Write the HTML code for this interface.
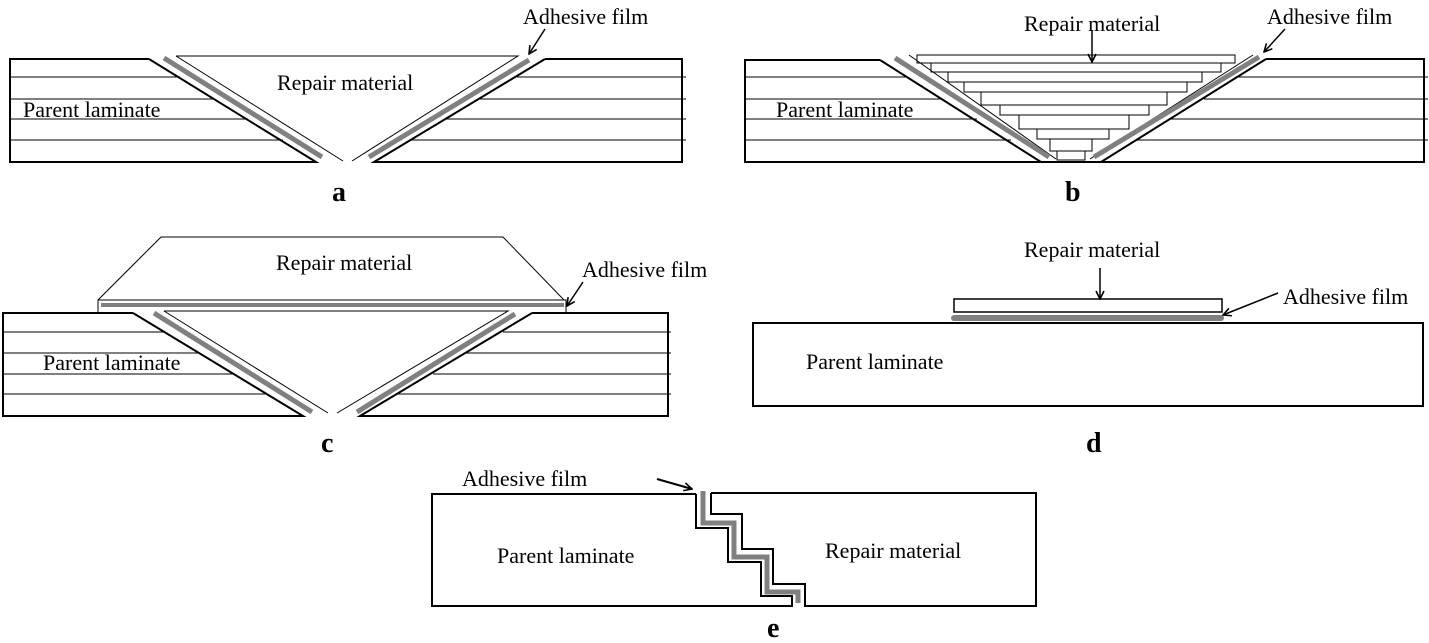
<!DOCTYPE html>
<html><head><meta charset="utf-8"><style>
html,body{margin:0;padding:0;background:#fff;}
svg{display:block;}
text{font-family:"Liberation Serif",serif;font-size:22px;fill:#000;}
.lbl{font-size:28px;font-weight:bold;}
</style></head><body>
<svg width="1429" height="643" viewBox="0 0 1429 643" xmlns="http://www.w3.org/2000/svg">
<defs><marker id="ah" markerWidth="10" markerHeight="10" refX="9" refY="5" orient="auto" markerUnits="userSpaceOnUse"><path d="M1,1 L9,5 L1,9" fill="none" stroke="#000" stroke-width="1.6"/></marker></defs>
<g fill="none" stroke="#000">
<!-- Panel a -->
<g stroke-width="1">
<line x1="10" y1="77" x2="180" y2="77"/><line x1="10" y1="99" x2="215" y2="99"/><line x1="10" y1="119" x2="248" y2="119"/><line x1="10" y1="140" x2="283" y2="140"/>
<line x1="517" y1="77" x2="686" y2="77"/><line x1="479" y1="99" x2="686" y2="99"/><line x1="446" y1="119" x2="686" y2="119"/><line x1="412" y1="140" x2="686" y2="140"/>
<polyline points="176,56 518,56 352,161"/><line x1="176" y1="56" x2="343" y2="161"/>
</g>
<polyline stroke-width="2" points="149,59 10,59 10,162 316,162 149,59"/>
<polyline stroke-width="2" points="545,59 682,59 682,162 374,162 545,59"/>
<g stroke="#808080" stroke-width="5"><line x1="164" y1="58" x2="322" y2="157"/><line x1="529" y1="60" x2="369" y2="157"/></g>
<line x1="545" y1="29" x2="529" y2="54" stroke-width="1.5" marker-end="url(#ah)"/>

<!-- Panel b -->
<g stroke-width="1">
<line x1="745" y1="77" x2="907" y2="77"/><line x1="745" y1="99" x2="943" y2="99"/><line x1="745" y1="119" x2="977" y2="119"/><line x1="745" y1="140" x2="1011" y2="140"/>
<line x1="1239" y1="77" x2="1428" y2="77"/><line x1="1204" y1="99" x2="1428" y2="99"/><line x1="1171" y1="119" x2="1428" y2="119"/><line x1="1136" y1="140" x2="1428" y2="140"/>
<line x1="909" y1="55" x2="1056" y2="159"/><line x1="1253" y1="55" x2="1090" y2="159"/>
<rect x="917" y="55" width="318" height="8"/>
<rect x="931" y="63" width="290" height="9"/>
<rect x="948" y="72" width="254" height="10"/>
<rect x="964" y="82" width="223" height="10"/>
<rect x="981" y="92" width="186" height="13"/>
<rect x="1000" y="105" width="149" height="10"/>
<rect x="1019" y="115" width="110" height="14"/>
<rect x="1037" y="129" width="72" height="10"/>
<rect x="1050" y="139" width="42" height="12"/>
<rect x="1057" y="151" width="28" height="9"/>
</g>
<polyline stroke-width="2" points="880,60 745,60 745,162 1041,162 880,60"/>
<polyline stroke-width="2" points="1266,59 1424,59 1424,162 1101,162 1266,59"/>
<line x1="1041" y1="162" x2="1101" y2="162" stroke-width="2"/>
<g stroke="#808080" stroke-width="5"><line x1="895" y1="58" x2="1049" y2="157"/><line x1="1259" y1="57" x2="1094" y2="157"/></g>
<line x1="1092" y1="30" x2="1092" y2="62" stroke-width="1.5" marker-end="url(#ah)"/>
<line x1="1285" y1="29" x2="1264" y2="52" stroke-width="1.5" marker-end="url(#ah)"/>

<!-- Panel c -->
<g stroke-width="1">
<line x1="3" y1="332" x2="163" y2="332"/><line x1="3" y1="353" x2="198" y2="353"/><line x1="3" y1="374" x2="233" y2="374"/><line x1="3" y1="394" x2="266" y2="394"/>
<line x1="503" y1="332" x2="671" y2="332"/><line x1="466" y1="353" x2="671" y2="353"/><line x1="433" y1="374" x2="671" y2="374"/><line x1="398" y1="394" x2="671" y2="394"/>
<polyline points="98,312 98,300 161,237 503,237 564,300 566,300 566,312"/>
<line x1="98" y1="300" x2="566" y2="300"/>
<polyline points="164,311 508,311 337,413"/><line x1="164" y1="311" x2="328" y2="413"/>
</g>
<polyline stroke-width="2" points="133,313 3,313 3,416 303,416 133,313"/>
<polyline stroke-width="2" points="532,313 668,313 668,416 360,416 532,313"/>
<g stroke="#808080" stroke-width="4"><line x1="101" y1="305" x2="564" y2="305"/></g>
<g stroke="#808080" stroke-width="5"><line x1="154" y1="313" x2="312" y2="412"/><line x1="515" y1="314" x2="357" y2="412"/></g>
<line x1="583" y1="282" x2="567" y2="306" stroke-width="1.5" marker-end="url(#ah)"/>

<!-- Panel d -->
<rect x="753" y="323" width="670" height="83" stroke-width="2"/>
<rect x="954" y="299" width="268" height="13" stroke-width="1.5"/>
<line x1="954" y1="318" x2="1221" y2="318" stroke="#808080" stroke-width="6" stroke-linecap="round"/>
<line x1="1100" y1="268" x2="1100" y2="299" stroke-width="1.5" marker-end="url(#ah)"/>
<line x1="1278" y1="293" x2="1223" y2="315" stroke-width="1.5" marker-end="url(#ah)"/>

<!-- Panel e -->
<polyline stroke-width="2" points="696,494 432,494 432,606 792,606 792,596 761,596 761,562 728,562 728,528 696,528 696,494"/>
<polyline stroke-width="2" points="711,493 1036,493 1036,606 805,606 805,584 773,584 773,549 742,549 742,514 711,514 711,493"/>
<polyline stroke="#808080" stroke-width="5" points="703,491 703,523 734,523 734,557 767,557 767,592 798,592 798,603"/>
<line x1="657" y1="479" x2="692" y2="489" stroke-width="2" marker-end="url(#ah)"/>
</g>

<text x="277" y="90">Repair material</text>
<text x="23" y="117">Parent laminate</text>
<text x="523" y="24">Adhesive film</text>
<text class="lbl" x="332" y="201">a</text>

<text x="1024" y="31">Repair material</text>
<text x="1267" y="24">Adhesive film</text>
<text x="776" y="117">Parent laminate</text>
<text class="lbl" x="1065" y="201">b</text>

<text x="276" y="270">Repair material</text>
<text x="582" y="277">Adhesive film</text>
<text x="43" y="370">Parent laminate</text>
<text class="lbl" x="321" y="452">c</text>

<text x="1024" y="257">Repair material</text>
<text x="1283" y="304">Adhesive film</text>
<text x="806" y="369">Parent laminate</text>
<text class="lbl" x="1086" y="452">d</text>

<text x="462" y="486">Adhesive film</text>
<text x="497" y="563">Parent laminate</text>
<text x="825" y="558">Repair material</text>
<text class="lbl" x="767" y="637">e</text>
</svg>
</body></html>
